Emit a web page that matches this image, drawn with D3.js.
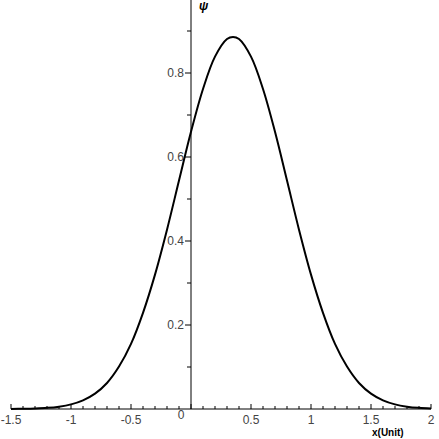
<!DOCTYPE html><html><head><script src="https://cdn.jsdelivr.net/npm/d3@7"></script>
<style>body{margin:0;background:#fff}</style></head><body><svg id="c" width="439" height="439"></svg>
<script>
const xs=[-1.5,-1.4,-1.3,-1.2,-1.1,-1.0,-0.9,-0.8,-0.7,-0.6,-0.5,-0.4,-0.3,-0.2,-0.1,0,0.1,0.2,0.3,0.35,0.4,0.5,0.6,0.7,0.8,0.9,1.0,1.1,1.2,1.3,1.4,1.5,1.6,1.7,1.8,1.9,2.0];
const ys=[0.0002,0.0006,0.0013,0.0027,0.0056,0.011,0.0206,0.0366,0.062,0.101,0.155,0.229,0.320,0.427,0.544,0.66,0.762,0.839,0.881,0.886,0.881,0.839,0.762,0.66,0.544,0.427,0.320,0.229,0.155,0.101,0.062,0.0366,0.0206,0.011,0.0056,0.0027,0.0013];
const xTicks=[-1.5,-1,-0.5,0,0.5,1,1.5,2];
const xTickLabels=["-1.5","-1","-0.5","0","0.5","1","1.5","2"];
const yTicks=[0.2,0.4,0.6,0.8];
const svg=d3.select("#c");
const x=d3.scaleLinear().domain([-1.5,2]).range([11,431]);
const y=d3.scaleLinear().domain([0,1]).range([409,-11]);
const g=svg.append("g").attr("font-family","Liberation Sans, Arial").attr("font-size",12).attr("fill","#444");
g.append("line").attr("x1",x(-1.5)).attr("x2",x(2)).attr("y1",y(0)).attr("y2",y(0)).attr("stroke","#000");
d3.range(-15,21).forEach(i=>{const v=i/10;g.append("line").attr("x1",x(v)).attr("x2",x(v)).attr("y1",y(0)).attr("y2",y(0)-(i%5===0?5:3)).attr("stroke","#000");});
xTicks.forEach((v,i)=>{g.append("text").attr("x",x(v)+(v===0?-10:0)).attr("y",y(0)+(v===0?10:15)).attr("text-anchor","middle").text(xTickLabels[i]);});
g.append("line").attr("x1",x(0)).attr("x2",x(0)).attr("y1",y(0)).attr("y2",0).attr("stroke","#000");
d3.range(1,10).forEach(i=>{const v=i/10;g.append("line").attr("x1",x(0)).attr("x2",x(0)-(i%2===0?6:4)).attr("y1",y(v)).attr("y2",y(v)).attr("stroke","#000");});
yTicks.forEach(v=>{g.append("text").attr("x",x(0)-7).attr("y",y(v)+4).attr("text-anchor","end").text(v);});
g.append("text").attr("x",x(0)+8).attr("y",10).attr("font-weight","bold").attr("font-style","italic").attr("fill","#000").text("ψ");
g.append("text").attr("x",372).attr("y",436).attr("font-size",10).attr("font-weight","bold").attr("fill","#000").text("x(Unit)");
const line=d3.line().x((d,i)=>x(xs[i])).y(d=>y(d)).curve(d3.curveCatmullRom);
svg.append("path").datum(ys).attr("d",line).attr("fill","none").attr("stroke","#000").attr("stroke-width",2);
</script></body></html>
